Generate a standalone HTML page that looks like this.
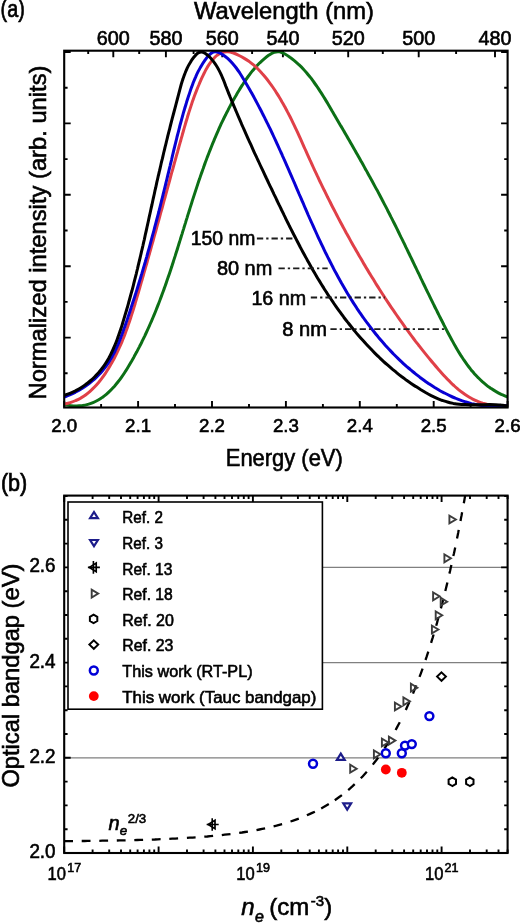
<!DOCTYPE html>
<html><head><meta charset="utf-8"><title>Figure</title>
<style>html,body{margin:0;padding:0;background:#fff;overflow:hidden}svg{display:block}</style></head>
<body>
<svg width="520" height="923" viewBox="0 0 520 923" font-family='"Liberation Sans", sans-serif' fill="#000"><style>text{stroke:#000;stroke-width:0.6px;paint-order:stroke}</style>
<rect width="520" height="923" fill="#fff"/>
<clipPath id="ca"><rect x="64.2" y="49.7" width="443.4" height="357.8"/></clipPath>
<path d="M64.2 407.5v-6.5M101.1 407.5v-3.4M138.1 407.5v-6.5M175.0 407.5v-3.4M212.0 407.5v-6.5M249.0 407.5v-3.4M285.9 407.5v-6.5M322.9 407.5v-3.4M359.8 407.5v-6.5M396.8 407.5v-3.4M433.7 407.5v-6.5M470.6 407.5v-3.4M507.6 407.5v-6.5M495.0 50.7v6.5M456.1 50.7v3.4M418.7 50.7v6.5M382.8 50.7v3.4M348.2 50.7v6.5M315.0 50.7v3.4M282.9 50.7v6.5M252.1 50.7v3.4M222.3 50.7v6.5M193.6 50.7v3.4M165.9 50.7v6.5M139.2 50.7v3.4M113.3 50.7v6.5M88.2 50.7v3.4M64.2 373.3h3.4M507.6 373.3h-3.4M64.2 337.6h6.5M507.6 337.6h-6.5M64.2 301.9h3.4M507.6 301.9h-3.4M64.2 266.2h6.5M507.6 266.2h-6.5M64.2 230.5h3.4M507.6 230.5h-3.4M64.2 194.8h6.5M507.6 194.8h-6.5M64.2 159.1h3.4M507.6 159.1h-3.4M64.2 123.4h6.5M507.6 123.4h-6.5M64.2 87.7h3.4M507.6 87.7h-3.4M64.2 52.0h6.5M507.6 52.0h-6.5" stroke="#000" stroke-width="1.9" fill="none"/>
<g clip-path="url(#ca)" fill="none" stroke-width="3" stroke-linejoin="round" stroke-linecap="round">
<path d="M64.2 404.6C65.3 404.8 68.6 405.5 70.7 405.7C72.7 405.9 74.8 406.0 76.7 406.0C78.7 406.0 80.6 405.8 82.5 405.6C84.3 405.3 86.1 404.9 87.9 404.4C89.6 404.0 91.3 403.4 93.0 402.7C94.6 402.0 96.2 401.2 97.8 400.3C99.3 399.5 100.8 398.5 102.3 397.4C103.8 396.4 105.2 395.3 106.6 394.1C108.0 392.9 109.3 391.7 110.6 390.3C112.0 389.0 113.2 387.6 114.5 386.2C115.7 384.8 116.9 383.3 118.1 381.8C119.3 380.3 120.5 378.7 121.6 377.1C122.7 375.5 123.8 373.9 124.9 372.2C126.0 370.6 127.0 368.9 128.0 367.2C129.1 365.5 130.1 363.8 131.1 362.1C132.0 360.4 133.0 358.6 134.0 356.9C134.9 355.2 135.9 353.5 136.8 351.8C137.7 350.0 138.6 348.3 139.5 346.6C140.4 344.8 141.3 343.1 142.1 341.3C143.0 339.6 143.8 337.9 144.7 336.1C145.5 334.4 146.3 332.6 147.1 330.9C147.9 329.1 148.7 327.4 149.5 325.6C150.3 323.9 151.0 322.1 151.8 320.3C152.6 318.6 153.3 316.8 154.0 315.1C154.8 313.3 155.5 311.5 156.2 309.7C156.9 308.0 157.6 306.2 158.3 304.4C159.0 302.6 159.7 300.9 160.3 299.1C161.0 297.3 161.7 295.5 162.3 293.7C163.0 292.0 163.6 290.2 164.3 288.4C164.9 286.6 165.6 284.8 166.2 283.0C166.8 281.2 167.4 279.4 168.0 277.6C168.7 275.8 169.3 274.0 169.9 272.2C170.5 270.4 171.1 268.6 171.7 266.8C172.2 265.0 172.8 263.2 173.4 261.4C174.0 259.6 174.6 257.7 175.2 255.9C175.7 254.1 176.3 252.3 176.9 250.5C177.5 248.7 178.0 246.8 178.6 245.0C179.2 243.2 179.7 241.4 180.3 239.6C180.9 237.7 181.4 235.9 182.0 234.1C182.5 232.3 183.1 230.4 183.7 228.6C184.2 226.8 184.8 224.9 185.4 223.1C185.9 221.3 186.5 219.4 187.1 217.6C187.6 215.8 188.2 213.9 188.8 212.1C189.4 210.3 189.9 208.4 190.5 206.6C191.1 204.8 191.7 202.9 192.2 201.1C192.8 199.3 193.4 197.4 194.0 195.6C194.6 193.8 195.2 191.9 195.8 190.1C196.4 188.3 197.0 186.4 197.6 184.6C198.2 182.8 198.8 181.0 199.5 179.1C200.1 177.3 200.7 175.5 201.3 173.7C202.0 171.9 202.6 170.0 203.3 168.2C203.9 166.4 204.6 164.6 205.2 162.8C205.9 161.0 206.6 159.2 207.2 157.4C207.9 155.6 208.6 153.8 209.3 152.0C210.0 150.2 210.7 148.5 211.4 146.7C212.1 144.9 212.8 143.1 213.6 141.4C214.3 139.6 215.0 137.8 215.8 136.1C216.6 134.3 217.3 132.5 218.1 130.8C218.9 129.1 219.6 127.3 220.4 125.6C221.2 123.8 222.1 122.1 222.9 120.4C223.7 118.7 224.5 117.0 225.4 115.3C226.2 113.5 227.1 111.8 228.0 110.2C228.8 108.5 229.7 106.8 230.6 105.1C231.5 103.4 232.4 101.8 233.4 100.1C234.3 98.4 235.2 96.8 236.2 95.2C237.1 93.5 238.1 91.9 239.1 90.3C240.1 88.6 241.1 87.0 242.1 85.4C243.2 83.8 244.2 82.2 245.3 80.6C246.3 79.1 247.4 77.5 248.5 76.0C249.7 74.4 250.8 72.9 252.0 71.4C253.2 69.9 254.5 68.5 255.8 67.0C257.1 65.6 258.4 64.2 259.8 62.8C261.2 61.5 262.7 60.1 264.2 58.8C265.8 57.5 267.4 56.2 269.0 55.1C270.7 54.0 272.4 52.8 274.2 52.3C275.9 51.7 277.8 51.5 279.6 51.8C281.3 52.1 283.2 53.1 284.9 54.0C286.6 55.0 288.3 56.1 289.9 57.3C291.6 58.4 293.1 59.6 294.6 60.8C296.1 62.1 297.5 63.3 298.9 64.7C300.3 66.0 301.7 67.3 303.0 68.7C304.3 70.1 305.6 71.6 306.8 73.0C308.0 74.5 309.2 75.9 310.4 77.4C311.6 78.9 312.7 80.5 313.8 82.0C314.9 83.5 316.0 85.1 317.1 86.7C318.2 88.2 319.2 89.8 320.2 91.4C321.3 93.0 322.3 94.6 323.3 96.2C324.3 97.8 325.3 99.5 326.3 101.1C327.3 102.7 328.2 104.4 329.2 106.0C330.2 107.7 331.1 109.3 332.1 111.0C333.1 112.6 334.0 114.3 335.0 115.9C336.0 117.6 336.9 119.2 337.9 120.9C338.9 122.6 339.8 124.2 340.8 125.9C341.8 127.5 342.7 129.2 343.7 130.8C344.6 132.5 345.6 134.2 346.6 135.8C347.5 137.5 348.5 139.2 349.5 140.8C350.4 142.5 351.4 144.2 352.3 145.8C353.3 147.5 354.2 149.2 355.2 150.8C356.1 152.5 357.1 154.2 358.0 155.8C359.0 157.5 359.9 159.2 360.9 160.9C361.8 162.5 362.8 164.2 363.7 165.9C364.6 167.6 365.6 169.2 366.5 170.9C367.4 172.6 368.4 174.3 369.3 176.0C370.2 177.6 371.2 179.3 372.1 181.0C373.0 182.7 373.9 184.4 374.8 186.1C375.7 187.8 376.6 189.4 377.6 191.1C378.5 192.8 379.4 194.5 380.3 196.2C381.2 197.9 382.1 199.6 382.9 201.3C383.8 203.0 384.7 204.7 385.6 206.4C386.5 208.1 387.4 209.8 388.2 211.5C389.1 213.2 390.0 214.9 390.8 216.6C391.7 218.3 392.5 220.0 393.4 221.7C394.3 223.4 395.1 225.1 396.0 226.8C396.8 228.5 397.7 230.3 398.5 232.0C399.3 233.7 400.2 235.4 401.0 237.1C401.9 238.8 402.7 240.5 403.5 242.2C404.4 244.0 405.2 245.7 406.0 247.4C406.9 249.1 407.7 250.8 408.5 252.5C409.4 254.3 410.2 256.0 411.0 257.7C411.8 259.4 412.7 261.1 413.5 262.9C414.3 264.6 415.1 266.3 416.0 268.0C416.8 269.8 417.6 271.5 418.5 273.2C419.3 274.9 420.1 276.6 420.9 278.4C421.8 280.1 422.6 281.8 423.4 283.5C424.3 285.3 425.1 287.0 425.9 288.7C426.8 290.4 427.6 292.2 428.5 293.9C429.3 295.6 430.1 297.3 431.0 299.1C431.8 300.8 432.7 302.5 433.5 304.2C434.4 306.0 435.2 307.7 436.1 309.4C437.0 311.1 437.8 312.9 438.7 314.6C439.6 316.3 440.4 318.0 441.3 319.8C442.2 321.5 443.1 323.2 443.9 324.9C444.8 326.7 445.7 328.4 446.6 330.1C447.5 331.8 448.4 333.6 449.3 335.3C450.2 337.0 451.1 338.7 452.1 340.4C453.0 342.1 453.9 343.8 454.9 345.5C455.9 347.2 456.8 348.9 457.8 350.5C458.8 352.2 459.8 353.8 460.8 355.4C461.9 357.0 462.9 358.6 464.0 360.2C465.1 361.8 466.2 363.4 467.3 364.9C468.4 366.4 469.6 367.9 470.8 369.4C472.0 370.8 473.2 372.3 474.4 373.7C475.7 375.1 476.9 376.5 478.3 377.8C479.6 379.1 480.9 380.4 482.3 381.7C483.7 382.9 485.2 384.1 486.7 385.3C488.1 386.4 489.7 387.5 491.2 388.6C492.8 389.7 494.4 390.7 496.1 391.6C497.8 392.6 499.5 393.5 501.2 394.4C503.0 395.2 505.8 396.3 506.7 396.7" stroke="#0c7016"/>
<path d="M64.3 404.0C65.3 403.8 68.4 403.2 70.3 402.6C72.2 402.0 74.1 401.3 75.8 400.5C77.6 399.8 79.4 398.9 81.0 397.9C82.7 396.9 84.3 395.9 85.9 394.7C87.4 393.6 88.9 392.4 90.3 391.1C91.8 389.8 93.2 388.5 94.5 387.1C95.8 385.7 97.1 384.2 98.4 382.7C99.6 381.2 100.8 379.7 102.0 378.1C103.2 376.5 104.3 374.9 105.4 373.3C106.5 371.7 107.5 370.0 108.5 368.4C109.5 366.7 110.5 365.0 111.5 363.3C112.4 361.6 113.4 359.9 114.3 358.2C115.2 356.5 116.0 354.7 116.9 353.0C117.7 351.2 118.5 349.5 119.3 347.7C120.1 345.9 120.9 344.2 121.7 342.4C122.4 340.6 123.1 338.8 123.9 337.0C124.6 335.2 125.3 333.3 125.9 331.5C126.6 329.7 127.3 327.9 127.9 326.0C128.5 324.2 129.2 322.3 129.8 320.5C130.4 318.6 131.0 316.8 131.6 314.9C132.2 313.1 132.8 311.2 133.4 309.3C133.9 307.5 134.5 305.6 135.1 303.7C135.6 301.8 136.2 300.0 136.7 298.1C137.3 296.2 137.8 294.3 138.4 292.5C138.9 290.6 139.5 288.7 140.0 286.8C140.6 285.0 141.1 283.1 141.6 281.2C142.2 279.3 142.7 277.4 143.3 275.6C143.8 273.7 144.3 271.8 144.9 269.9C145.4 268.1 145.9 266.2 146.5 264.3C147.0 262.4 147.5 260.6 148.0 258.7C148.6 256.8 149.1 254.9 149.6 253.0C150.2 251.2 150.7 249.3 151.2 247.4C151.7 245.5 152.2 243.7 152.8 241.8C153.3 239.9 153.8 238.0 154.3 236.2C154.8 234.3 155.4 232.4 155.9 230.5C156.4 228.6 156.9 226.8 157.4 224.9C157.9 223.0 158.5 221.1 159.0 219.3C159.5 217.4 160.0 215.5 160.5 213.6C161.0 211.7 161.6 209.9 162.1 208.0C162.6 206.1 163.1 204.2 163.6 202.4C164.1 200.5 164.6 198.6 165.2 196.7C165.7 194.9 166.2 193.0 166.7 191.1C167.2 189.2 167.7 187.3 168.2 185.5C168.8 183.6 169.3 181.7 169.8 179.8C170.3 178.0 170.8 176.1 171.3 174.2C171.8 172.3 172.4 170.5 172.9 168.6C173.4 166.7 173.9 164.8 174.4 163.0C175.0 161.1 175.5 159.2 176.0 157.3C176.5 155.5 177.0 153.6 177.6 151.7C178.1 149.8 178.6 148.0 179.1 146.1C179.7 144.2 180.2 142.3 180.7 140.5C181.2 138.6 181.8 136.7 182.3 134.8C182.8 133.0 183.4 131.1 183.9 129.2C184.4 127.3 185.0 125.5 185.5 123.6C186.1 121.7 186.6 119.9 187.2 118.0C187.7 116.1 188.3 114.3 188.9 112.4C189.5 110.6 190.1 108.7 190.7 106.9C191.3 105.0 191.9 103.2 192.5 101.3C193.2 99.5 193.8 97.7 194.5 95.8C195.2 94.0 195.9 92.2 196.6 90.4C197.3 88.6 198.0 86.8 198.8 85.0C199.5 83.2 200.3 81.4 201.1 79.6C201.9 77.9 202.7 76.1 203.6 74.3C204.5 72.6 205.3 70.8 206.3 69.1C207.2 67.4 208.2 65.7 209.3 64.1C210.4 62.5 211.6 60.9 212.9 59.4C214.2 57.9 215.7 56.4 217.2 55.2C218.8 54.1 220.5 53.0 222.3 52.4C224.1 51.8 226.0 51.6 227.9 51.7C229.7 51.8 231.6 52.4 233.5 53.0C235.3 53.7 237.2 54.6 239.0 55.5C240.8 56.4 242.6 57.4 244.3 58.4C246.0 59.4 247.7 60.5 249.3 61.6C250.9 62.8 252.4 64.0 253.9 65.2C255.4 66.5 256.8 67.8 258.2 69.2C259.5 70.5 260.8 71.9 262.1 73.4C263.4 74.8 264.6 76.3 265.8 77.8C267.0 79.3 268.2 80.8 269.3 82.3C270.5 83.9 271.6 85.4 272.7 87.0C273.8 88.6 274.9 90.2 275.9 91.8C277.0 93.4 278.0 95.1 279.0 96.7C280.0 98.3 281.0 100.0 281.9 101.7C282.9 103.3 283.8 105.0 284.8 106.7C285.7 108.4 286.6 110.1 287.5 111.9C288.4 113.6 289.3 115.3 290.2 117.0C291.1 118.8 291.9 120.5 292.8 122.3C293.6 124.0 294.5 125.8 295.3 127.6C296.1 129.3 297.0 131.1 297.8 132.9C298.6 134.7 299.4 136.5 300.2 138.2C301.0 140.0 301.8 141.8 302.6 143.6C303.4 145.4 304.2 147.2 305.0 149.0C305.8 150.8 306.6 152.6 307.4 154.4C308.2 156.1 309.0 157.9 309.8 159.7C310.7 161.5 311.5 163.3 312.3 165.1C313.1 166.9 313.9 168.6 314.7 170.4C315.6 172.2 316.4 173.9 317.2 175.7C318.1 177.5 318.9 179.3 319.7 181.0C320.6 182.8 321.4 184.5 322.3 186.3C323.1 188.0 324.0 189.8 324.9 191.5C325.7 193.3 326.6 195.0 327.4 196.8C328.3 198.5 329.2 200.3 330.1 202.0C330.9 203.7 331.8 205.5 332.7 207.2C333.6 208.9 334.5 210.7 335.4 212.4C336.3 214.1 337.2 215.9 338.1 217.6C339.0 219.3 339.9 221.0 340.8 222.7C341.7 224.4 342.6 226.2 343.6 227.9C344.5 229.6 345.4 231.3 346.3 233.0C347.3 234.7 348.2 236.4 349.2 238.1C350.1 239.8 351.0 241.5 352.0 243.2C352.9 244.9 353.9 246.6 354.9 248.2C355.8 249.9 356.8 251.6 357.8 253.3C358.7 255.0 359.7 256.7 360.7 258.3C361.7 260.0 362.6 261.7 363.6 263.4C364.6 265.0 365.6 266.7 366.6 268.4C367.6 270.0 368.6 271.7 369.6 273.4C370.6 275.0 371.6 276.7 372.7 278.3C373.7 280.0 374.7 281.6 375.7 283.3C376.8 284.9 377.8 286.6 378.8 288.2C379.9 289.9 380.9 291.5 382.0 293.2C383.0 294.8 384.1 296.4 385.1 298.1C386.2 299.7 387.3 301.3 388.3 302.9C389.4 304.6 390.5 306.2 391.6 307.8C392.7 309.4 393.8 311.0 394.9 312.6C396.0 314.2 397.1 315.8 398.2 317.4C399.3 319.0 400.4 320.6 401.6 322.2C402.7 323.8 403.8 325.4 405.0 327.0C406.1 328.6 407.2 330.1 408.4 331.7C409.6 333.3 410.7 334.9 411.9 336.4C413.1 338.0 414.2 339.5 415.4 341.1C416.6 342.6 417.8 344.2 419.0 345.7C420.2 347.3 421.4 348.8 422.7 350.4C423.9 351.9 425.1 353.4 426.3 354.9C427.6 356.5 428.8 358.0 430.1 359.5C431.3 361.0 432.6 362.5 433.9 364.0C435.1 365.5 436.4 367.0 437.7 368.5C439.0 370.0 440.3 371.4 441.6 372.9C442.9 374.4 444.2 375.8 445.6 377.2C446.9 378.7 448.3 380.1 449.7 381.4C451.0 382.8 452.4 384.2 453.9 385.5C455.3 386.8 456.7 388.0 458.2 389.3C459.7 390.5 461.2 391.7 462.7 392.8C464.2 393.9 465.8 395.0 467.4 396.0C469.0 397.0 470.6 397.9 472.2 398.8C473.9 399.7 475.6 400.5 477.3 401.2C479.1 401.9 480.8 402.6 482.7 403.2C484.5 403.7 486.3 404.2 488.2 404.6C490.1 405.0 492.1 405.3 494.1 405.5C496.1 405.7 498.2 405.8 500.3 405.8C502.4 405.8 505.7 405.5 506.7 405.5" stroke="#e04048"/>
<path d="M64.3 397.0C65.2 396.6 68.0 395.6 69.8 394.8C71.6 394.1 73.4 393.2 75.2 392.3C76.9 391.4 78.7 390.5 80.3 389.5C82.0 388.5 83.7 387.4 85.3 386.3C86.9 385.2 88.5 384.1 90.0 382.8C91.5 381.6 93.0 380.4 94.5 379.1C95.9 377.8 97.3 376.4 98.6 375.0C100.0 373.6 101.3 372.2 102.5 370.7C103.8 369.2 105.0 367.7 106.1 366.2C107.2 364.6 108.3 363.0 109.3 361.4C110.4 359.7 111.3 358.0 112.3 356.4C113.2 354.7 114.1 352.9 115.0 351.2C115.8 349.4 116.6 347.6 117.4 345.9C118.2 344.1 119.0 342.2 119.7 340.4C120.4 338.6 121.1 336.7 121.8 334.9C122.5 333.0 123.2 331.2 123.8 329.3C124.5 327.5 125.2 325.6 125.8 323.7C126.4 321.8 127.1 320.0 127.7 318.1C128.3 316.2 129.0 314.4 129.6 312.5C130.2 310.6 130.8 308.8 131.4 306.9C132.0 305.1 132.6 303.2 133.2 301.3C133.8 299.5 134.4 297.6 135.0 295.7C135.6 293.9 136.2 292.0 136.8 290.1C137.4 288.3 137.9 286.4 138.5 284.5C139.1 282.7 139.6 280.8 140.2 279.0C140.8 277.1 141.3 275.2 141.9 273.4C142.4 271.5 143.0 269.6 143.5 267.8C144.1 265.9 144.6 264.0 145.2 262.2C145.7 260.3 146.2 258.4 146.8 256.6C147.3 254.7 147.8 252.8 148.3 250.9C148.9 249.1 149.4 247.2 149.9 245.3C150.4 243.5 150.9 241.6 151.4 239.7C151.9 237.8 152.4 236.0 152.9 234.1C153.5 232.2 154.0 230.3 154.4 228.5C154.9 226.6 155.4 224.7 155.9 222.8C156.4 220.9 156.9 219.1 157.4 217.2C157.9 215.3 158.4 213.4 158.9 211.5C159.3 209.6 159.8 207.7 160.3 205.8C160.8 203.9 161.2 202.1 161.7 200.2C162.2 198.3 162.7 196.4 163.1 194.5C163.6 192.6 164.1 190.7 164.5 188.8C165.0 186.9 165.5 185.0 165.9 183.1C166.4 181.1 166.9 179.2 167.3 177.3C167.8 175.4 168.2 173.5 168.7 171.6C169.2 169.7 169.6 167.7 170.1 165.8C170.5 163.9 171.0 162.0 171.5 160.1C171.9 158.1 172.4 156.2 172.8 154.3C173.3 152.4 173.7 150.4 174.2 148.5C174.7 146.6 175.1 144.7 175.6 142.8C176.1 140.8 176.6 138.9 177.0 137.0C177.5 135.1 178.0 133.2 178.5 131.3C179.0 129.4 179.5 127.5 179.9 125.6C180.4 123.7 181.0 121.8 181.5 119.9C182.0 118.1 182.5 116.2 183.0 114.3C183.5 112.5 184.1 110.6 184.6 108.8C185.2 106.9 185.7 105.1 186.3 103.2C186.8 101.4 187.4 99.6 188.0 97.8C188.6 96.0 189.2 94.2 189.8 92.4C190.4 90.6 191.0 88.8 191.6 87.1C192.3 85.3 192.9 83.6 193.6 81.8C194.3 80.1 195.0 78.4 195.8 76.6C196.5 74.9 197.3 73.2 198.2 71.4C199.1 69.7 200.1 68.0 201.1 66.2C202.1 64.5 203.2 62.7 204.5 60.9C205.7 59.2 207.0 57.2 208.4 55.7C209.9 54.3 211.4 52.7 213.0 52.2C214.7 51.6 216.5 51.7 218.3 52.3C220.1 52.8 222.0 54.1 223.6 55.3C225.3 56.4 226.9 57.8 228.4 59.1C229.9 60.5 231.3 61.9 232.6 63.4C233.9 64.9 235.1 66.4 236.3 68.0C237.4 69.5 238.5 71.1 239.6 72.7C240.7 74.4 241.7 76.0 242.7 77.7C243.7 79.3 244.7 81.0 245.7 82.7C246.7 84.4 247.6 86.0 248.6 87.7C249.6 89.4 250.5 91.1 251.5 92.8C252.4 94.5 253.4 96.2 254.3 97.9C255.2 99.6 256.2 101.4 257.1 103.1C258.0 104.8 258.9 106.5 259.8 108.3C260.7 110.0 261.6 111.7 262.5 113.5C263.4 115.2 264.2 116.9 265.1 118.7C266.0 120.4 266.8 122.2 267.7 123.9C268.6 125.7 269.4 127.4 270.3 129.2C271.1 131.0 271.9 132.7 272.8 134.5C273.6 136.3 274.4 138.0 275.3 139.8C276.1 141.6 276.9 143.4 277.7 145.1C278.5 146.9 279.3 148.7 280.1 150.5C280.9 152.3 281.8 154.0 282.5 155.8C283.3 157.6 284.1 159.4 284.9 161.2C285.7 163.0 286.5 164.8 287.3 166.6C288.1 168.4 288.9 170.1 289.6 171.9C290.4 173.7 291.2 175.5 292.0 177.3C292.8 179.1 293.5 180.9 294.3 182.7C295.1 184.5 295.8 186.3 296.6 188.1C297.4 189.9 298.2 191.7 298.9 193.5C299.7 195.3 300.5 197.1 301.3 198.9C302.0 200.7 302.8 202.4 303.6 204.2C304.3 206.0 305.1 207.8 305.9 209.6C306.7 211.4 307.5 213.2 308.2 215.0C309.0 216.8 309.8 218.6 310.6 220.3C311.4 222.1 312.2 223.9 313.0 225.7C313.8 227.5 314.6 229.2 315.4 231.0C316.2 232.8 317.0 234.6 317.8 236.3C318.6 238.1 319.5 239.9 320.3 241.6C321.1 243.4 322.0 245.2 322.8 246.9C323.6 248.7 324.5 250.4 325.3 252.2C326.2 253.9 327.1 255.7 327.9 257.4C328.8 259.2 329.7 260.9 330.6 262.7C331.4 264.4 332.3 266.1 333.2 267.8C334.1 269.6 335.0 271.3 336.0 273.0C336.9 274.7 337.8 276.4 338.8 278.2C339.7 279.9 340.7 281.6 341.6 283.3C342.6 285.0 343.6 286.7 344.5 288.3C345.5 290.0 346.5 291.7 347.5 293.4C348.5 295.1 349.6 296.7 350.6 298.4C351.6 300.1 352.7 301.7 353.7 303.4C354.8 305.0 355.9 306.7 356.9 308.3C358.0 309.9 359.1 311.5 360.2 313.2C361.3 314.8 362.5 316.4 363.6 318.0C364.7 319.6 365.9 321.1 367.0 322.7C368.2 324.3 369.4 325.9 370.6 327.4C371.8 329.0 373.0 330.5 374.2 332.0C375.4 333.6 376.6 335.1 377.9 336.6C379.1 338.1 380.4 339.6 381.7 341.1C382.9 342.5 384.2 344.0 385.5 345.5C386.8 346.9 388.1 348.3 389.5 349.8C390.8 351.2 392.2 352.6 393.5 354.0C394.9 355.4 396.3 356.8 397.7 358.1C399.1 359.5 400.5 360.8 401.9 362.1C403.3 363.5 404.8 364.8 406.2 366.1C407.7 367.4 409.2 368.6 410.7 369.9C412.2 371.1 413.7 372.4 415.2 373.6C416.7 374.8 418.3 376.0 419.8 377.2C421.4 378.4 423.0 379.5 424.6 380.7C426.1 381.8 427.8 382.9 429.4 384.0C431.0 385.1 432.7 386.2 434.3 387.2C436.0 388.2 437.7 389.2 439.3 390.2C441.0 391.2 442.8 392.1 444.5 393.0C446.2 393.9 447.9 394.8 449.7 395.6C451.5 396.5 453.2 397.3 455.0 398.0C456.8 398.8 458.6 399.5 460.4 400.1C462.2 400.8 464.1 401.4 465.9 402.0C467.8 402.6 469.6 403.1 471.5 403.6C473.4 404.0 475.3 404.5 477.2 404.8C479.1 405.2 481.0 405.5 482.9 405.7C484.8 406.0 486.8 406.2 488.7 406.3C490.7 406.5 492.7 406.5 494.7 406.5C496.6 406.5 498.6 406.5 500.6 406.3C502.7 406.2 505.7 405.9 506.7 405.8" stroke="#0800d4"/>
<path d="M64.3 395.4C65.2 395.0 68.1 394.1 69.9 393.3C71.8 392.6 73.6 391.7 75.4 390.8C77.1 389.9 78.9 389.0 80.6 387.9C82.2 386.9 83.9 385.8 85.5 384.6C87.1 383.5 88.6 382.3 90.1 381.0C91.6 379.7 93.1 378.4 94.5 377.0C95.9 375.7 97.2 374.2 98.5 372.8C99.8 371.3 101.0 369.8 102.2 368.2C103.4 366.7 104.5 365.1 105.5 363.5C106.6 361.8 107.6 360.2 108.6 358.5C109.5 356.8 110.4 355.0 111.3 353.3C112.1 351.5 113.0 349.7 113.7 347.9C114.5 346.1 115.3 344.3 116.0 342.5C116.7 340.6 117.4 338.8 118.1 336.9C118.7 335.0 119.4 333.2 120.0 331.3C120.6 329.4 121.3 327.5 121.9 325.6C122.5 323.7 123.0 321.8 123.6 319.9C124.2 318.0 124.8 316.1 125.3 314.2C125.9 312.3 126.5 310.4 127.0 308.5C127.6 306.6 128.1 304.7 128.6 302.8C129.2 300.8 129.7 298.9 130.2 297.0C130.7 295.1 131.2 293.2 131.8 291.3C132.3 289.4 132.8 287.5 133.3 285.6C133.8 283.7 134.2 281.7 134.7 279.8C135.2 277.9 135.7 276.0 136.2 274.1C136.6 272.2 137.1 270.3 137.6 268.3C138.0 266.4 138.5 264.5 138.9 262.6C139.4 260.7 139.9 258.8 140.3 256.9C140.8 254.9 141.2 253.0 141.6 251.1C142.1 249.2 142.5 247.3 143.0 245.3C143.4 243.4 143.8 241.5 144.3 239.6C144.7 237.7 145.1 235.7 145.5 233.8C146.0 231.9 146.4 230.0 146.8 228.1C147.2 226.1 147.7 224.2 148.1 222.3C148.5 220.4 148.9 218.5 149.3 216.5C149.8 214.6 150.2 212.7 150.6 210.8C151.0 208.8 151.4 206.9 151.9 205.0C152.3 203.1 152.7 201.2 153.1 199.2C153.5 197.3 154.0 195.4 154.4 193.5C154.8 191.5 155.2 189.6 155.7 187.7C156.1 185.8 156.5 183.9 156.9 181.9C157.4 180.0 157.8 178.1 158.2 176.2C158.7 174.3 159.1 172.3 159.6 170.4C160.0 168.5 160.5 166.6 160.9 164.7C161.3 162.7 161.8 160.8 162.3 158.9C162.7 157.0 163.2 155.1 163.6 153.2C164.1 151.2 164.6 149.3 165.0 147.4C165.5 145.5 166.0 143.6 166.4 141.7C166.9 139.7 167.4 137.8 167.8 135.9C168.3 134.0 168.8 132.1 169.3 130.2C169.8 128.3 170.2 126.4 170.7 124.5C171.2 122.5 171.7 120.6 172.2 118.7C172.7 116.8 173.2 114.9 173.7 113.0C174.2 111.1 174.7 109.2 175.2 107.3C175.7 105.4 176.2 103.5 176.7 101.6C177.2 99.7 177.7 97.8 178.2 95.9C178.7 94.0 179.2 92.1 179.7 90.2C180.2 88.3 180.7 86.4 181.2 84.5C181.8 82.6 182.3 80.7 183.0 78.9C183.6 77.0 184.2 75.1 185.0 73.3C185.7 71.5 186.5 69.6 187.3 67.8C188.2 66.0 189.2 64.2 190.3 62.5C191.3 60.7 192.5 58.9 193.8 57.3C195.1 55.7 196.5 53.8 198.1 52.9C199.6 52.1 201.3 51.8 202.9 52.2C204.5 52.6 206.3 54.1 207.9 55.4C209.4 56.6 210.9 58.3 212.2 59.9C213.6 61.4 214.7 63.1 215.8 64.7C216.9 66.4 217.9 68.1 218.8 69.9C219.7 71.6 220.6 73.4 221.4 75.2C222.2 77.0 222.9 78.8 223.7 80.6C224.4 82.5 225.1 84.3 225.8 86.1C226.6 88.0 227.3 89.8 228.0 91.6C228.7 93.5 229.5 95.3 230.2 97.1C231.0 99.0 231.7 100.8 232.5 102.6C233.2 104.4 234.0 106.2 234.8 108.0C235.5 109.9 236.3 111.7 237.1 113.5C237.8 115.3 238.6 117.1 239.4 118.9C240.2 120.7 241.0 122.5 241.7 124.3C242.5 126.1 243.3 127.9 244.1 129.7C244.9 131.5 245.7 133.3 246.5 135.1C247.3 136.9 248.1 138.7 248.9 140.5C249.7 142.3 250.6 144.1 251.4 145.9C252.2 147.7 253.0 149.5 253.8 151.3C254.6 153.1 255.5 154.9 256.3 156.6C257.1 158.4 258.0 160.2 258.8 162.0C259.6 163.8 260.4 165.6 261.3 167.4C262.1 169.1 263.0 170.9 263.8 172.7C264.6 174.5 265.5 176.3 266.3 178.0C267.2 179.8 268.0 181.6 268.8 183.4C269.7 185.2 270.5 186.9 271.4 188.7C272.2 190.5 273.1 192.3 273.9 194.1C274.8 195.8 275.6 197.6 276.5 199.4C277.3 201.2 278.2 202.9 279.0 204.7C279.9 206.5 280.8 208.3 281.6 210.0C282.5 211.8 283.3 213.6 284.2 215.4C285.1 217.1 285.9 218.9 286.8 220.7C287.7 222.4 288.6 224.2 289.4 226.0C290.3 227.7 291.2 229.5 292.1 231.2C293.0 233.0 293.9 234.8 294.8 236.5C295.7 238.3 296.6 240.0 297.5 241.8C298.4 243.5 299.3 245.2 300.2 247.0C301.1 248.7 302.1 250.5 303.0 252.2C303.9 253.9 304.9 255.7 305.8 257.4C306.7 259.1 307.7 260.8 308.7 262.6C309.6 264.3 310.6 266.0 311.6 267.7C312.5 269.4 313.5 271.1 314.5 272.8C315.5 274.5 316.5 276.2 317.5 277.9C318.5 279.6 319.6 281.2 320.6 282.9C321.6 284.6 322.7 286.3 323.7 287.9C324.7 289.6 325.8 291.2 326.9 292.9C327.9 294.6 329.0 296.2 330.1 297.8C331.2 299.5 332.3 301.1 333.4 302.7C334.5 304.4 335.7 306.0 336.8 307.6C337.9 309.2 339.1 310.8 340.3 312.4C341.4 314.0 342.6 315.6 343.8 317.2C345.0 318.7 346.2 320.3 347.4 321.9C348.6 323.4 349.8 325.0 351.1 326.5C352.3 328.1 353.6 329.6 354.8 331.1C356.1 332.7 357.4 334.2 358.7 335.7C360.0 337.2 361.3 338.7 362.6 340.1C363.9 341.6 365.2 343.1 366.6 344.5C367.9 346.0 369.3 347.4 370.7 348.8C372.0 350.3 373.4 351.7 374.8 353.1C376.2 354.5 377.6 355.9 379.1 357.2C380.5 358.6 381.9 359.9 383.4 361.3C384.8 362.6 386.3 363.9 387.8 365.2C389.3 366.5 390.8 367.8 392.3 369.1C393.8 370.3 395.3 371.6 396.8 372.8C398.4 374.1 399.9 375.3 401.5 376.5C403.1 377.6 404.6 378.8 406.2 380.0C407.8 381.1 409.4 382.3 411.1 383.4C412.7 384.5 414.3 385.6 416.0 386.6C417.6 387.7 419.3 388.8 420.9 389.8C422.6 390.8 424.3 391.8 426.0 392.8C427.7 393.7 429.5 394.7 431.2 395.6C433.0 396.5 434.7 397.3 436.5 398.1C438.3 398.9 440.1 399.6 441.9 400.3C443.8 400.9 445.6 401.5 447.5 402.0C449.4 402.6 451.3 403.0 453.3 403.4C455.2 403.7 457.2 404.0 459.1 404.2C461.1 404.4 463.1 404.5 465.2 404.6C467.2 404.7 469.2 404.8 471.3 404.8C473.3 404.8 475.3 404.8 477.4 404.8C479.4 404.7 481.4 404.7 483.5 404.7C485.5 404.6 487.5 404.6 489.5 404.6C491.5 404.6 493.5 404.6 495.4 404.7C497.3 404.8 499.3 404.9 501.2 405.1C503.0 405.2 505.8 405.7 506.7 405.8" stroke="#000"/>
</g>
<rect x="64.2" y="50.7" width="443.4" height="356.8" fill="none" stroke="#000" stroke-width="2.1"/>
<text x="64.2" y="432.0" font-size="19.0" text-anchor="middle" textLength="26.0" lengthAdjust="spacingAndGlyphs">2.0</text>
<text x="138.1" y="432.0" font-size="19.0" text-anchor="middle" textLength="26.0" lengthAdjust="spacingAndGlyphs">2.1</text>
<text x="212.0" y="432.0" font-size="19.0" text-anchor="middle" textLength="26.0" lengthAdjust="spacingAndGlyphs">2.2</text>
<text x="285.9" y="432.0" font-size="19.0" text-anchor="middle" textLength="26.0" lengthAdjust="spacingAndGlyphs">2.3</text>
<text x="359.8" y="432.0" font-size="19.0" text-anchor="middle" textLength="26.0" lengthAdjust="spacingAndGlyphs">2.4</text>
<text x="433.7" y="432.0" font-size="19.0" text-anchor="middle" textLength="26.0" lengthAdjust="spacingAndGlyphs">2.5</text>
<text x="507.6" y="432.0" font-size="19.0" text-anchor="middle" textLength="26.0" lengthAdjust="spacingAndGlyphs">2.6</text>
<text x="113.3" y="45.3" font-size="19.5" text-anchor="middle" textLength="33.0" lengthAdjust="spacingAndGlyphs">600</text>
<text x="165.9" y="45.3" font-size="19.5" text-anchor="middle" textLength="33.0" lengthAdjust="spacingAndGlyphs">580</text>
<text x="222.3" y="45.3" font-size="19.5" text-anchor="middle" textLength="33.0" lengthAdjust="spacingAndGlyphs">560</text>
<text x="282.9" y="45.3" font-size="19.5" text-anchor="middle" textLength="33.0" lengthAdjust="spacingAndGlyphs">540</text>
<text x="348.2" y="45.3" font-size="19.5" text-anchor="middle" textLength="33.0" lengthAdjust="spacingAndGlyphs">520</text>
<text x="418.7" y="45.3" font-size="19.5" text-anchor="middle" textLength="33.0" lengthAdjust="spacingAndGlyphs">500</text>
<text x="495.0" y="45.3" font-size="19.5" text-anchor="middle" textLength="33.0" lengthAdjust="spacingAndGlyphs">480</text>
<text x="284.0" y="19.2" font-size="24.0" text-anchor="middle" textLength="180.0" lengthAdjust="spacingAndGlyphs">Wavelength (nm)</text>
<text x="284.3" y="465.5" font-size="24.0" text-anchor="middle" textLength="117.0" lengthAdjust="spacingAndGlyphs">Energy (eV)</text>
<text transform="translate(46 399.5) rotate(-90)" font-size="24" textLength="334" lengthAdjust="spacingAndGlyphs">Normalized intensity (arb. units)</text>
<text x="0.6" y="17.3" font-size="23.5" textLength="24.2" lengthAdjust="spacingAndGlyphs" style="stroke-width:0.7px">(a)</text>
<text x="255.4" y="245.2" font-size="19.5" text-anchor="end" textLength="64.6" lengthAdjust="spacingAndGlyphs">150 nm</text>
<path d="M256.9 238.5H293.8" stroke="#1c1c1c" stroke-width="1.8" stroke-dasharray="6.3 3 2.3 3" fill="none"/>
<text x="272.3" y="275.4" font-size="19.5" text-anchor="end" textLength="55.4" lengthAdjust="spacingAndGlyphs">80 nm</text>
<path d="M278.5 268.3H327.7" stroke="#1c1c1c" stroke-width="1.8" stroke-dasharray="6.3 3 2.3 3" fill="none"/>
<text x="306.2" y="305.2" font-size="19.5" text-anchor="end" textLength="54.8" lengthAdjust="spacingAndGlyphs">16 nm</text>
<path d="M310.8 297.5H384.8" stroke="#1c1c1c" stroke-width="1.8" stroke-dasharray="6.3 3 2.3 3" fill="none"/>
<text x="326.9" y="336.0" font-size="19.5" text-anchor="end" textLength="44.7" lengthAdjust="spacingAndGlyphs">8 nm</text>
<path d="M330.4 329.2H446.8" stroke="#1c1c1c" stroke-width="1.8" stroke-dasharray="6.3 3 2.3 3" fill="none"/>
<path d="M322.4 567.4H507.6M322.4 662.6H507.6M64.2 757.8H507.6" stroke="#808080" stroke-width="1.3" fill="none"/>
<clipPath id="cb"><rect x="64.2" y="495.6" width="443.4" height="357.4"/></clipPath>
<path clip-path="url(#cb)" d="M64.2 841.2 L67.1 841.1 L70.1 841.1 L73.0 841.1M81.7 841.0 L84.7 841.0 L87.6 840.9 L90.5 840.9M99.3 840.8 L102.2 840.7 L105.1 840.7 L108.1 840.6M116.8 840.5 L119.7 840.4 L122.7 840.4 L125.6 840.3M134.3 840.1 L137.2 840.0 L140.2 839.9 L143.1 839.8M151.8 839.6 L154.8 839.5 L157.7 839.3 L160.6 839.2M169.3 838.9 L172.3 838.7 L175.2 838.6 L178.1 838.4M186.9 837.9 L189.8 837.7 L192.7 837.6 L195.6 837.4M204.3 836.7 L207.3 836.5 L210.2 836.2 L213.1 835.9M221.8 835.1 L224.7 834.7 L227.6 834.4 L230.5 834.1M239.2 832.9 L242.1 832.5 L245.0 832.0 L247.9 831.6M256.5 830.1 L259.4 829.5 L262.2 828.9 L265.1 828.3M273.6 826.3 L276.5 825.6 L279.3 824.8 L282.1 824.1M290.5 821.5 L293.2 820.6 L296.0 819.6 L298.8 818.6M306.9 815.3 L309.5 814.1 L312.2 812.9 L314.9 811.7M321.2 808.4 L323.7 807.0 L326.3 805.5 L328.8 804.0M334.8 800.2 L337.2 798.5 L339.6 796.8 L341.9 795.1M348.2 790.1 L350.4 788.2 L352.6 786.2 L354.7 784.2M360.8 778.3 L362.8 776.2 L364.8 774.0 L366.8 771.8M372.8 764.6 L374.6 762.3 L376.4 760.0 L378.2 757.6M384.5 748.4 L386.1 746.0 L387.7 743.5 L389.3 741.0M395.6 730.0 L397.0 727.4 L398.4 724.8 L399.8 722.2M405.8 710.0 L407.0 707.3 L408.2 704.6 L409.4 702.0M413.0 693.6 L414.1 690.8 L415.2 688.1 L416.3 685.4M419.5 676.9 L420.6 674.1 L421.6 671.4 L422.6 668.6M425.5 660.0 L426.5 657.2 L427.4 654.4 L428.3 651.6M431.1 642.9 L431.9 640.1 L432.8 637.3 L433.6 634.5M436.2 625.7 L437.0 622.9 L437.7 620.1 L438.5 617.3M440.9 608.4 L441.6 605.6 L442.4 602.8 L443.1 599.9M445.3 591.1 L446.0 588.2 L446.7 585.4 L447.4 582.5M449.4 573.6 L450.1 570.8 L450.7 567.9 L451.4 565.0M453.3 556.1 L454.0 553.2 L454.6 550.4 L455.2 547.5M457.0 538.6 L457.6 535.7 L458.2 532.8 L458.7 529.9M460.5 521.0 L461.0 518.1 L461.6 515.2 L462.1 512.3M463.8 503.3 L464.3 500.5 L464.8 497.6 L465.3 494.7" stroke="#000" stroke-width="2.3" fill="none"/>
<path d="M64.2 853.0v-6.5M64.2 495.6v6.5M92.6 853.0v-3.4M92.6 495.6v3.4M109.2 853.0v-3.4M109.2 495.6v3.4M121.0 853.0v-3.4M121.0 495.6v3.4M130.2 853.0v-3.4M130.2 495.6v3.4M137.6 853.0v-3.4M137.6 495.6v3.4M143.9 853.0v-3.4M143.9 495.6v3.4M149.4 853.0v-3.4M149.4 495.6v3.4M154.2 853.0v-3.4M154.2 495.6v3.4M158.6 853.0v-6.5M158.6 495.6v6.5M187.0 853.0v-3.4M187.0 495.6v3.4M203.6 853.0v-3.4M203.6 495.6v3.4M215.4 853.0v-3.4M215.4 495.6v3.4M224.5 853.0v-3.4M224.5 495.6v3.4M232.0 853.0v-3.4M232.0 495.6v3.4M238.3 853.0v-3.4M238.3 495.6v3.4M243.8 853.0v-3.4M243.8 495.6v3.4M248.6 853.0v-3.4M248.6 495.6v3.4M252.9 853.0v-6.5M252.9 495.6v6.5M281.3 853.0v-3.4M281.3 495.6v3.4M297.9 853.0v-3.4M297.9 495.6v3.4M309.7 853.0v-3.4M309.7 495.6v3.4M318.9 853.0v-3.4M318.9 495.6v3.4M326.3 853.0v-3.4M326.3 495.6v3.4M332.7 853.0v-3.4M332.7 495.6v3.4M338.1 853.0v-3.4M338.1 495.6v3.4M343.0 853.0v-3.4M343.0 495.6v3.4M347.3 853.0v-6.5M347.3 495.6v6.5M375.7 853.0v-3.4M375.7 495.6v3.4M392.3 853.0v-3.4M392.3 495.6v3.4M404.1 853.0v-3.4M404.1 495.6v3.4M413.2 853.0v-3.4M413.2 495.6v3.4M420.7 853.0v-3.4M420.7 495.6v3.4M427.0 853.0v-3.4M427.0 495.6v3.4M432.5 853.0v-3.4M432.5 495.6v3.4M437.3 853.0v-3.4M437.3 495.6v3.4M441.6 853.0v-6.5M441.6 495.6v6.5M470.0 853.0v-3.4M470.0 495.6v3.4M486.7 853.0v-3.4M486.7 495.6v3.4M498.5 853.0v-3.4M498.5 495.6v3.4M507.6 853.0v-3.4M507.6 495.6v3.4M64.2 853.0h6.5M507.6 853.0h-6.5M64.2 829.2h3.4M507.6 829.2h-3.4M64.2 805.4h3.4M507.6 805.4h-3.4M64.2 781.6h3.4M507.6 781.6h-3.4M64.2 757.8h6.5M507.6 757.8h-6.5M64.2 734.0h3.4M507.6 734.0h-3.4M64.2 710.2h3.4M507.6 710.2h-3.4M64.2 686.4h3.4M507.6 686.4h-3.4M64.2 662.6h6.5M507.6 662.6h-6.5M64.2 638.8h3.4M507.6 638.8h-3.4M64.2 615.0h3.4M507.6 615.0h-3.4M64.2 591.2h3.4M507.6 591.2h-3.4M64.2 567.4h6.5M507.6 567.4h-6.5M64.2 543.6h3.4M507.6 543.6h-3.4M64.2 519.8h3.4M507.6 519.8h-3.4M64.2 496.0h3.4M507.6 496.0h-3.4" stroke="#000" stroke-width="1.9" fill="none"/>
<rect x="64.2" y="495.6" width="443.4" height="357.4" fill="none" stroke="#000" stroke-width="2.1"/>
<path d="M455.9 519.5L449.4 515.6L449.4 523.4Z" fill="none" stroke="#3c3c3c" stroke-width="1.9"/>
<path d="M450.9 558.3L444.4 554.4L444.4 562.2Z" fill="none" stroke="#3c3c3c" stroke-width="1.9"/>
<path d="M439.6 596.3L433.1 592.4L433.1 600.2Z" fill="none" stroke="#3c3c3c" stroke-width="1.9"/>
<path d="M447.2 601.7L440.7 597.8L440.7 605.6Z" fill="none" stroke="#3c3c3c" stroke-width="1.9"/>
<path d="M442.2 615.3L435.7 611.4L435.7 619.2Z" fill="none" stroke="#3c3c3c" stroke-width="1.9"/>
<path d="M438.4 629.5L431.9 625.6L431.9 633.4Z" fill="none" stroke="#3c3c3c" stroke-width="1.9"/>
<path d="M417.4 687.7L410.9 683.8L410.9 691.6Z" fill="none" stroke="#3c3c3c" stroke-width="1.9"/>
<path d="M409.9 701.3L403.4 697.4L403.4 705.2Z" fill="none" stroke="#3c3c3c" stroke-width="1.9"/>
<path d="M401.4 706.5L394.9 702.6L394.9 710.4Z" fill="none" stroke="#3c3c3c" stroke-width="1.9"/>
<path d="M395.4 740.6L388.9 736.7L388.9 744.5Z" fill="none" stroke="#3c3c3c" stroke-width="1.9"/>
<path d="M388.4 742.5L381.9 738.6L381.9 746.4Z" fill="none" stroke="#3c3c3c" stroke-width="1.9"/>
<path d="M380.4 754.3L373.9 750.4L373.9 758.2Z" fill="none" stroke="#3c3c3c" stroke-width="1.9"/>
<path d="M356.7 768.7L350.2 764.8L350.2 772.6Z" fill="none" stroke="#3c3c3c" stroke-width="1.9"/>
<path d="M340.8 753.6L344.7 759.8L336.9 759.8Z" fill="#fff" stroke="#1c1c8a" stroke-width="2.2"/>
<path d="M347.2 809.6L351.1 803.4L343.3 803.4Z" fill="#fff" stroke="#1c1c8a" stroke-width="2.2"/>
<path d="M208.2 824.5L215.0 820.2L215.0 828.8Z" fill="none" stroke="#000" stroke-width="1.7"/>
<path d="M206.7 824.5H218.7M212.2 818.2V830.8" stroke="#000" stroke-width="1.6" fill="none"/>
<path d="M441.5 672.4L445.9 676.6L441.5 680.8L437.1 676.6Z" fill="#fff" stroke="#000" stroke-width="2"/>
<polygon points="452.3,786.0 448.6,783.9 448.6,779.6 452.3,777.4 456.0,779.6 456.0,783.9" fill="#fff" stroke="#000" stroke-width="2"/>
<polygon points="469.8,786.0 466.1,783.9 466.1,779.6 469.8,777.4 473.5,779.6 473.5,783.9" fill="#fff" stroke="#000" stroke-width="2"/>
<circle cx="313.0" cy="763.8" r="3.95" fill="#fff" stroke="#0000d8" stroke-width="2.5"/>
<circle cx="385.8" cy="753.3" r="3.95" fill="#fff" stroke="#0000d8" stroke-width="2.5"/>
<circle cx="401.8" cy="753.3" r="3.95" fill="#fff" stroke="#0000d8" stroke-width="2.5"/>
<circle cx="405.0" cy="745.6" r="3.95" fill="#fff" stroke="#0000d8" stroke-width="2.5"/>
<circle cx="411.8" cy="744.1" r="3.95" fill="#fff" stroke="#0000d8" stroke-width="2.5"/>
<circle cx="429.4" cy="716.1" r="3.95" fill="#fff" stroke="#0000d8" stroke-width="2.5"/>
<circle cx="385.8" cy="769.5" r="4.9" fill="#f00"/>
<circle cx="401.8" cy="772.8" r="4.9" fill="#f00"/>
<rect x="68.0" y="502.0" width="254.4" height="207.2" fill="#fff" stroke="#000" stroke-width="1.6"/>
<text x="122.3" y="523.3" font-size="16.5" textLength="40.6" lengthAdjust="spacingAndGlyphs">Ref. 2</text>
<text x="122.3" y="548.9" font-size="16.5" textLength="40.6" lengthAdjust="spacingAndGlyphs">Ref. 3</text>
<text x="122.3" y="574.5" font-size="16.5" textLength="50.0" lengthAdjust="spacingAndGlyphs">Ref. 13</text>
<text x="122.3" y="600.1" font-size="16.5" textLength="50.5" lengthAdjust="spacingAndGlyphs">Ref. 18</text>
<text x="122.3" y="625.7" font-size="16.5" textLength="51.6" lengthAdjust="spacingAndGlyphs">Ref. 20</text>
<text x="122.3" y="651.3" font-size="16.5" textLength="51.0" lengthAdjust="spacingAndGlyphs">Ref. 23</text>
<text x="122.3" y="676.9" font-size="16.5" textLength="130.3" lengthAdjust="spacingAndGlyphs">This work (RT-PL)</text>
<text x="122.3" y="702.5" font-size="16.5" textLength="194.0" lengthAdjust="spacingAndGlyphs">This work (Tauc bandgap)</text>
<path d="M94.0 512.0L97.9 518.2L90.1 518.2Z" fill="#fff" stroke="#1c1c8a" stroke-width="2.2"/>
<path d="M94.0 546.2L97.9 540.0L90.1 540.0Z" fill="#fff" stroke="#1c1c8a" stroke-width="2.2"/>
<path d="M89.4 567.4L96.2 563.1L96.2 571.7Z" fill="none" stroke="#000" stroke-width="1.7"/>
<path d="M87.9 567.4H99.9M93.4 561.1V573.7" stroke="#000" stroke-width="1.6" fill="none"/>
<path d="M98.2 593.6L91.7 589.7L91.7 597.5Z" fill="none" stroke="#3c3c3c" stroke-width="1.9"/>
<polygon points="93.6,623.2 89.9,621.0 89.9,616.8 93.6,614.6 97.3,616.8 97.3,621.0" fill="#fff" stroke="#000" stroke-width="2"/>
<path d="M93.8 640.4L98.2 644.6L93.8 648.8L89.4 644.6Z" fill="#fff" stroke="#000" stroke-width="2"/>
<circle cx="93.8" cy="670.5" r="3.95" fill="#fff" stroke="#0000d8" stroke-width="2.5"/>
<circle cx="93.8" cy="696.1" r="4.9" fill="#f00"/>
<text x="108.6" y="829.6" font-size="20"><tspan font-style="italic">n</tspan><tspan font-style="italic" font-size="13.5" dy="5.5">e</tspan><tspan font-size="13.3" dy="-12.6" dx="0.5">2/3</tspan></text>
<text x="55.6" y="858.0" font-size="19.5" text-anchor="end" textLength="26.2" lengthAdjust="spacingAndGlyphs">2.0</text>
<text x="55.6" y="762.8" font-size="19.5" text-anchor="end" textLength="26.2" lengthAdjust="spacingAndGlyphs">2.2</text>
<text x="55.6" y="667.6" font-size="19.5" text-anchor="end" textLength="26.2" lengthAdjust="spacingAndGlyphs">2.4</text>
<text x="55.6" y="572.4" font-size="19.5" text-anchor="end" textLength="26.2" lengthAdjust="spacingAndGlyphs">2.6</text>
<text x="47.6" y="879.6" font-size="19.0" textLength="18.4" lengthAdjust="spacingAndGlyphs">10</text>
<text x="67.2" y="871.8" font-size="13.3" textLength="14.0" lengthAdjust="spacingAndGlyphs">17</text>
<text x="236.3" y="879.6" font-size="19.0" textLength="18.4" lengthAdjust="spacingAndGlyphs">10</text>
<text x="255.9" y="871.8" font-size="13.3" textLength="14.0" lengthAdjust="spacingAndGlyphs">19</text>
<text x="425.0" y="879.6" font-size="19.0" textLength="18.4" lengthAdjust="spacingAndGlyphs">10</text>
<text x="444.6" y="871.8" font-size="13.3" textLength="14.0" lengthAdjust="spacingAndGlyphs">21</text>
<text transform="translate(19 787.6) rotate(-90)" font-size="24" textLength="224" lengthAdjust="spacingAndGlyphs">Optical bandgap (eV)</text>
<text x="0.9" y="491.0" font-size="23.5" textLength="26.4" lengthAdjust="spacingAndGlyphs" style="stroke-width:0.7px">(b)</text>
<text x="241.3" y="914.8" font-size="24"><tspan font-style="italic">n</tspan><tspan font-style="italic" font-size="16" dy="7.2" dx="0.3">e</tspan><tspan dy="-7.2" dx="5.5">(cm</tspan><tspan font-size="15" dy="-8.6" dx="1.5">-3</tspan><tspan dy="8.6">)</tspan></text>
</svg>
</body></html>
